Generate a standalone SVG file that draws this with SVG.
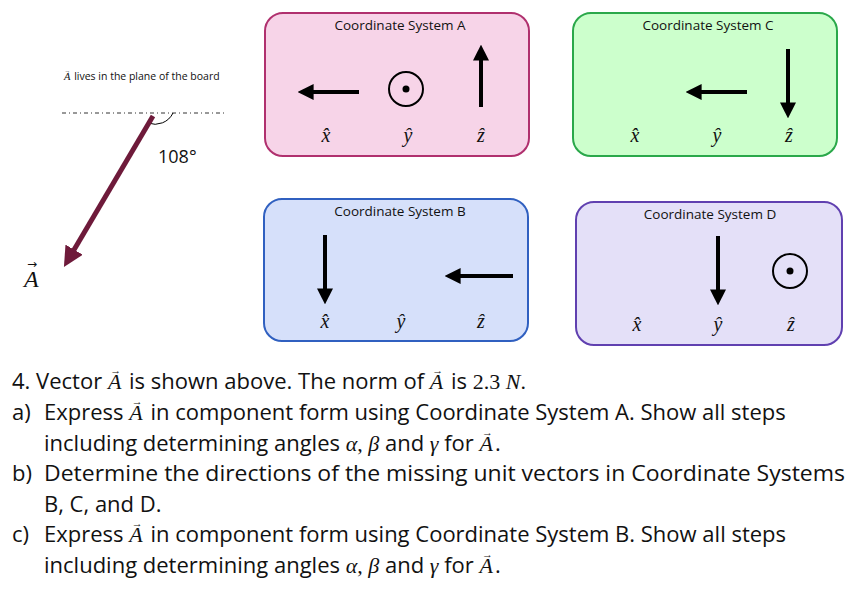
<svg xmlns="http://www.w3.org/2000/svg" width="853" height="611" viewBox="0 0 853 611">
<style>
text{font-family:"Open Sans","DejaVu Sans",sans-serif;fill:#111}
.t{font-size:13.5px;text-anchor:middle}
.m{font-family:"Liberation Serif",serif;font-style:italic;font-size:20px;text-anchor:middle}
.q{font-size:22px}
.s{font-family:"Liberation Serif",serif}
.i{font-family:"Liberation Serif",serif;font-style:italic}
.w{font-family:"Liberation Sans",sans-serif;font-size:11px}
.ar{stroke:#000;stroke-width:4;fill:none;marker-end:url(#h)}
</style>
<defs>
<marker id="h" viewBox="0 0 10 10" refX="6" refY="5" markerWidth="4" markerHeight="4" orient="auto"><path d="M0,0L10,5L0,10z" fill="#000"/></marker>
<marker id="h2" viewBox="0 0 10 10" refX="6" refY="5" markerWidth="4" markerHeight="4" orient="auto"><path d="M0,0L10,5L0,10z" fill="#6e1a3a"/></marker>
</defs>
<g id="vectorA">
<text x="64" y="80" font-size="10.5"><tspan class="i">A</tspan><tspan font-family="Liberation Sans" font-size="6" dx="-6" dy="-7">→</tspan><tspan dx="1" dy="7"> lives in the plane of the board</tspan></text>
<line x1="62" y1="113" x2="224" y2="113" stroke="#333" stroke-width="1" stroke-dasharray="4,3,1,3"/>
<path d="M148,123 A20,20 0 0 0 173,113" fill="none" stroke="#000" stroke-width="1"/>
<text x="158" y="163" font-family="Liberation Serif" font-size="18">108°</text>
<line x1="153" y1="116" x2="68" y2="260" stroke="#6e1a3a" stroke-width="5" marker-end="url(#h2)"/>
<text x="24" y="287" class="i" font-size="24">A</text>
<text x="27" y="268" font-family="Liberation Sans" font-size="12">→</text>
</g>
<g id="sysA">
<rect x="265" y="13" width="264" height="143" rx="18" fill="#f7d4e8" stroke="#b0306e" stroke-width="2"/>
<text class="t" x="400" y="30">Coordinate System A</text>
<line class="ar" x1="359" y1="92" x2="304" y2="92"/>
<circle cx="406" cy="89" r="17" fill="none" stroke="#000" stroke-width="2"/><circle cx="406" cy="89" r="3.5" fill="#000"/>
<line class="ar" x1="481" y1="107" x2="481" y2="51"/>
<text class="m" x="326" y="142">x̂</text><text class="m" x="408" y="142">ŷ</text><text class="m" x="481" y="142">ẑ</text>
</g>
<g id="sysC">
<rect x="573" y="13" width="264" height="143" rx="18" fill="#ccffcc" stroke="#2aa84a" stroke-width="2"/>
<text class="t" x="708" y="30">Coordinate System C</text>
<line class="ar" x1="747" y1="92" x2="692" y2="92"/>
<line class="ar" x1="788" y1="49" x2="788" y2="112"/>
<text class="m" x="635" y="142">x̂</text><text class="m" x="717" y="142">ŷ</text><text class="m" x="789" y="142">ẑ</text>
</g>
<g id="sysB">
<rect x="264" y="199" width="264" height="142" rx="18" fill="#d6e0fa" stroke="#3060c0" stroke-width="2"/>
<text class="t" x="400" y="216">Coordinate System B</text>
<line class="ar" x1="325" y1="235" x2="325" y2="298"/>
<line class="ar" x1="513" y1="276" x2="451" y2="276"/>
<text class="m" x="325" y="328">x̂</text><text class="m" x="401" y="328">ŷ</text><text class="m" x="481" y="328">ẑ</text>
</g>
<g id="sysD">
<rect x="576" y="202" width="266" height="143" rx="18" fill="#e4e0f8" stroke="#6040b0" stroke-width="2"/>
<text class="t" x="710" y="219">Coordinate System D</text>
<line class="ar" x1="718" y1="236" x2="718" y2="299"/>
<circle cx="790" cy="271" r="17" fill="none" stroke="#000" stroke-width="2"/><circle cx="790" cy="271" r="3.5" fill="#000"/>
<text class="m" x="637" y="331">x̂</text><text class="m" x="718" y="331">ŷ</text><text class="m" x="791" y="331">ẑ</text>
</g>
<g id="question">
<text class="q" x="12" y="389">4. Vector <tspan class="i">A</tspan><tspan class="w" dx="-11" dy="-15">→</tspan><tspan dx="2" dy="15"> is shown above.  The norm of </tspan><tspan class="i">A</tspan><tspan class="w" dx="-11" dy="-15">→</tspan><tspan dx="2" dy="15"> is </tspan><tspan class="s">2.3 <tspan font-style="italic">N</tspan>.</tspan></text>
<text class="q" x="12" y="420">a)</text>
<text class="q" x="44" y="420">Express <tspan class="i">A</tspan><tspan class="w" dx="-11" dy="-15">→</tspan><tspan dx="2" dy="15"> in component form using Coordinate System A.  Show all steps</tspan></text>
<text class="q" x="44" y="451">including determining angles <tspan class="i">α</tspan><tspan class="s">, </tspan><tspan class="i">β</tspan> and <tspan class="i">γ</tspan> for <tspan class="i">A</tspan><tspan class="w" dx="-11" dy="-15">→</tspan><tspan dx="2" dy="15">.</tspan></text>
<text class="q" x="12" y="481">b)</text>
<text class="q" x="44" y="481" textLength="801" lengthAdjust="spacingAndGlyphs">Determine the directions of the missing unit vectors in Coordinate Systems</text>
<text class="q" x="44" y="512">B, C, and D.</text>
<text class="q" x="12" y="542">c)</text>
<text class="q" x="44" y="542">Express <tspan class="i">A</tspan><tspan class="w" dx="-11" dy="-15">→</tspan><tspan dx="2" dy="15"> in component form using Coordinate System B.  Show all steps</tspan></text>
<text class="q" x="44" y="573">including determining angles <tspan class="i">α</tspan><tspan class="s">, </tspan><tspan class="i">β</tspan> and <tspan class="i">γ</tspan> for <tspan class="i">A</tspan><tspan class="w" dx="-11" dy="-15">→</tspan><tspan dx="2" dy="15">.</tspan></text>
</g>
</svg>
